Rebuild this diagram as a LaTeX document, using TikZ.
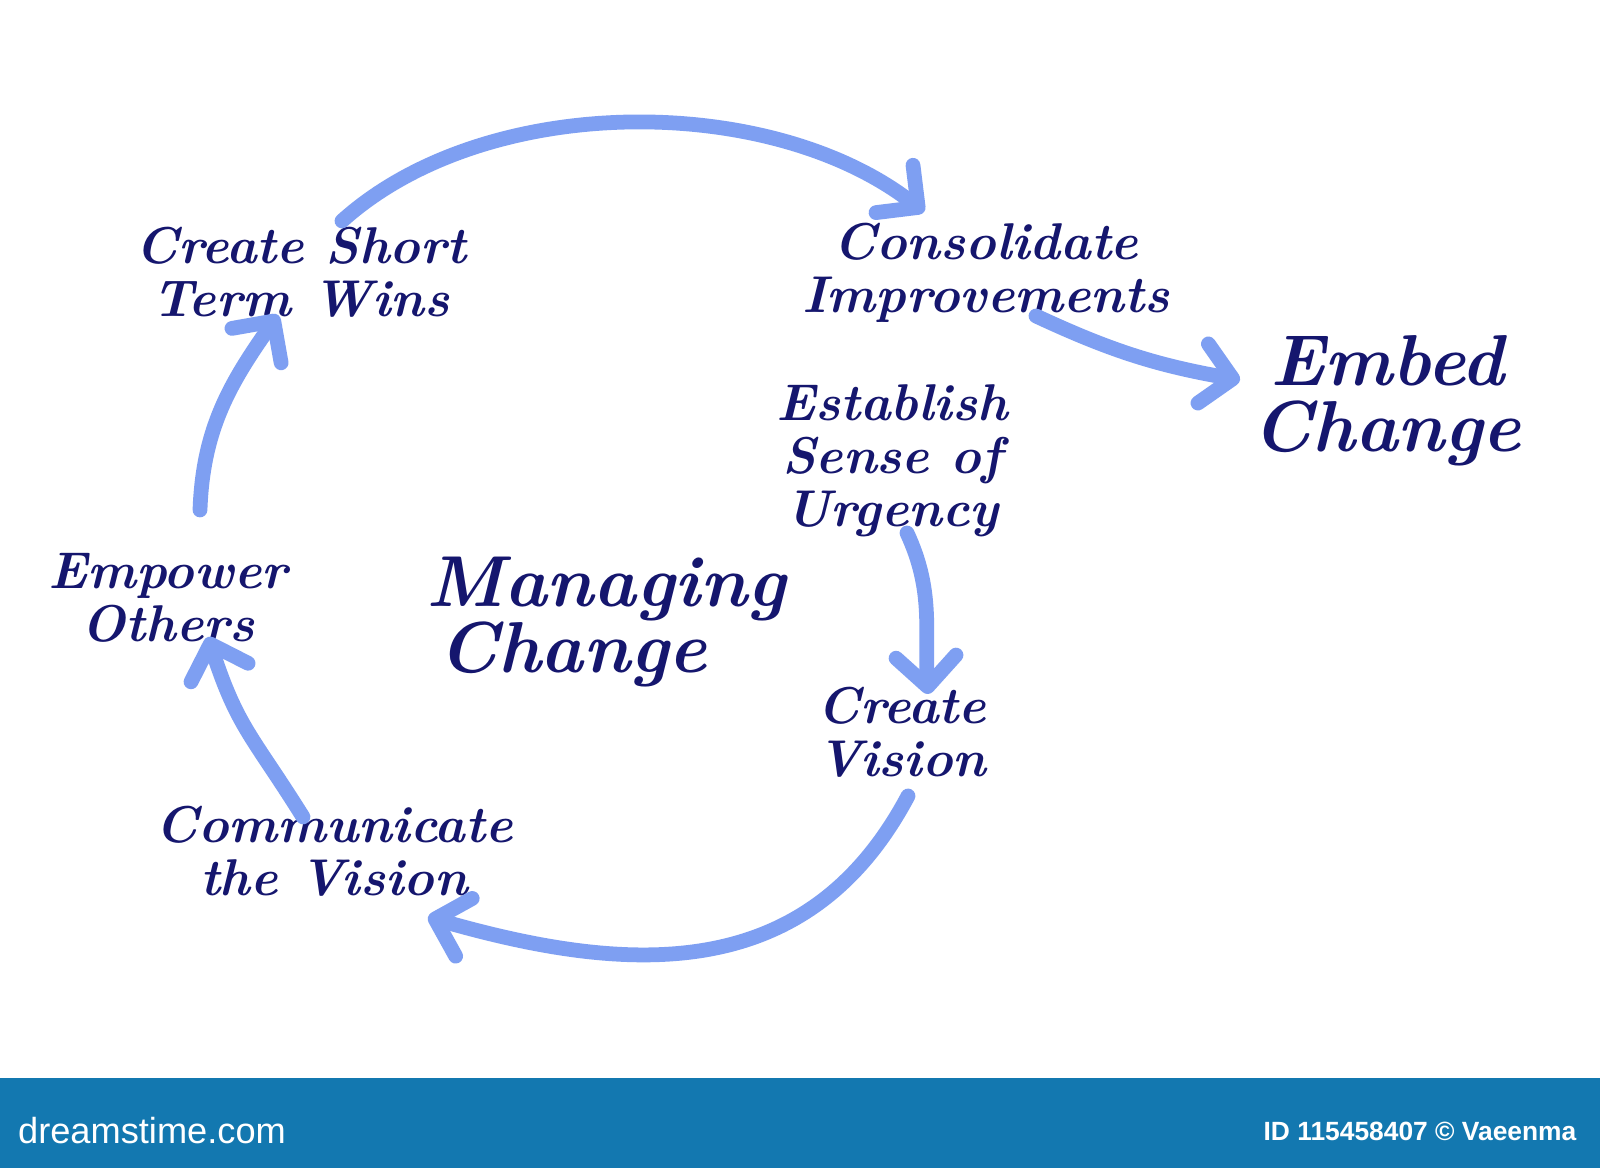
\documentclass[tikz,border=0pt]{standalone}
\usepackage{xcolor}
\usepackage{fontspec}
\usetikzlibrary{arrows.meta, positioning}
\newfontfamily\barfont{Liberation Sans}
\definecolor{inkblue}{HTML}{15166E}
\definecolor{arrowblue}{HTML}{7E9FF2}
\definecolor{barblue}{HTML}{1378B0}
\tikzset{
  stage/.style={align=center, text=inkblue, inner sep=0pt, font=\fontsize{14.7}{15.1}\selectfont\bfseries\itshape},
  headline/.style={align=center, text=inkblue, inner sep=0pt, font=\fontsize{20.5}{18.8}\selectfont\bfseries\itshape},
  flow/.style={draw=arrowblue, line width=4.2pt, line cap=round, -{Straight Barb[round, length=3mm, width=6mm]}}
}

\begin{document}
\begin{tikzpicture}[x=0.01cm, y=0.01cm]
    \fill[white] (0,0) rectangle (1600,1168);
    \useasboundingbox (0,0) rectangle (1600,1168);
    % credit bar
    \fill[barblue] (0,0) rectangle (1600,90);
    \node[text=white, font=\barfont\fontsize{10.3}{12}\selectfont] (site) at (152,37) {dreamstime.com};
    \node[text=white, font=\barfont\bfseries\fontsize{7.5}{9}\selectfont] (credit) at (1420,37) {ID 115458407 © Vaeenma};

    \node[stage] (wins) at (301,896) {Create Short\\Term Wins};
    \node[stage] (consol) at (986,895) {Consolidate\\Improvements};
    \node[headline] (embed) at (1387,767) {Embed\\Change};
    \node[stage] (urgency) at (892,707) {Establish\\Sense of\\Urgency};
    \node[headline, align=left, anchor=west] (managing) at (426,546) {Managing\\\hspace*{0.12cm}Change};
    \node[stage] (empower) at (168,570) {Empower\\Others};
    \node[stage] (vision) at (902,436) {Create\\Vision};
    \node[stage] (comm) at (334,317) {Communicate\\the Vision};

    \draw[flow] ([shift={(41,51)}]wins.center) to[out=42, in=142, looseness=0.85] ([shift={(-62,61)}]consol.center);
    \draw[flow] ([shift={(50,-43)}]consol.center) to[out=-25, in=170] ([shift={(-147,21)}]embed.center);
    \draw[flow] ([shift={(15,-72)}]urgency.center) to[out=-65, in=93] ([shift={(26,38)}]vision.center);
    \draw[flow] ([shift={(6,-64)}]vision.center) to[out=-118, in=-16, looseness=1.1] ([shift={(94,-66)}]comm.center);
    \draw[flow] ([shift={(-31,34)}]comm.center) to[out=122, in=-72, looseness=1.2] ([shift={(40,-39)}]empower.center);
    \draw[flow] ([shift={(32,88)}]empower.center) to[out=88, in=-125] ([shift={(-23,-43)}]wins.center);
\end{tikzpicture}
\end{document}
